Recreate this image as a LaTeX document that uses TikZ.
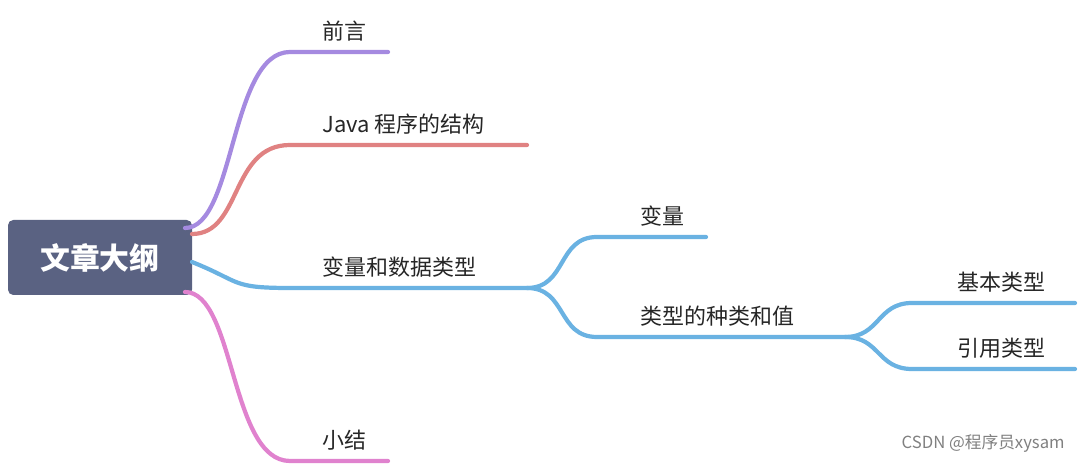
\documentclass[tikz,border=0pt]{standalone}
\usepackage{fontspec}
\setmainfont{Noto Sans CJK SC}
\usetikzlibrary{positioning}
\definecolor{rootblue}{HTML}{5A6282}
\definecolor{bpurple}{HTML}{A58AE0}
\definecolor{bred}{HTML}{E08282}
\definecolor{bblue}{HTML}{6AB2E2}
\definecolor{bpink}{HTML}{E082CE}
\tikzset{branch/.style={line width=2.4pt,line cap=round},
         lbl/.style={anchor=south west,inner sep=0pt,font=\fontsize{12.5}{14}\selectfont,text=black!85}}
\begin{document}
\begin{tikzpicture}[x=0.02cm,y=-0.02cm]
  \useasboundingbox (0,0) rectangle (1080,465);
  \node[fill=rootblue,rounded corners=3pt,minimum width=184*0.02cm,minimum height=75*0.02cm,
        text=white,font=\fontsize{17}{20}\selectfont\bfseries] (root) at (100,257.5) {文章大纲};
  % first level
  \coordinate (r1) at (185,228); \coordinate (r2) at (192,234);
  \coordinate (r3) at (192,262); \coordinate (r4) at (185,292);
  \coordinate (p1) at (290,52);  \coordinate (e1) at (388,52);
  \coordinate (p2) at (290,145); \coordinate (e2) at (527,145);
  \coordinate (p3) at (290,288); \coordinate (e3) at (527,288);
  \coordinate (p4) at (290,461); \coordinate (e4) at (388,461);
  \draw[branch,bpurple] (r1) .. controls +(50,0) and +(-60,0) .. (p1) -- (e1);
  \draw[branch,bred] (r2) .. controls +(50,0) and +(-60,0) .. (p2) -- (e2);
  \draw[branch,bblue] (r3) .. controls +(50,20) and +(-60,0) .. (p3) -- (e3);
  \draw[branch,bpink] (r4) .. controls +(50,0) and +(-60,0) .. (p4) -- (e4);
  \node[lbl] (n1) at (322,42) {前言};
  \node[lbl] (n2) at (322,135) {Java 程序的结构};
  \node[lbl] (n3) at (322,278) {变量和数据类型};
  \node[lbl] (n4) at (322,451) {小结};
  % second level
  \coordinate (p5) at (597,237); \coordinate (e5) at (706,237);
  \coordinate (p6) at (597,337); \coordinate (e6) at (845,337);
  \draw[branch,bblue] (e3) .. controls +(40,0) and +(-40,0) .. (p5) -- (e5);
  \draw[branch,bblue] (e3) .. controls +(40,0) and +(-40,0) .. (p6) -- (e6);
  \node[lbl] (n5) at (640,227) {变量};
  \node[lbl] (n6) at (640,327) {类型的种类和值};
  % third level
  \coordinate (p7) at (912,303); \coordinate (e7) at (1075,303);
  \coordinate (p8) at (912,369); \coordinate (e8) at (1075,369);
  \draw[branch,bblue] (e6) .. controls +(35,0) and +(-35,0) .. (p7) -- (e7);
  \draw[branch,bblue] (e6) .. controls +(35,0) and +(-35,0) .. (p8) -- (e8);
  \node[lbl] (n7) at (957,293) {基本类型};
  \node[lbl] (n8) at (957,359) {引用类型};
  \node[anchor=east,inner sep=0pt,text=black!50,font=\fontsize{9.5}{11}\selectfont] (mark) at (1065,443) {CSDN @程序员xysam};
\end{tikzpicture}
\end{document}
